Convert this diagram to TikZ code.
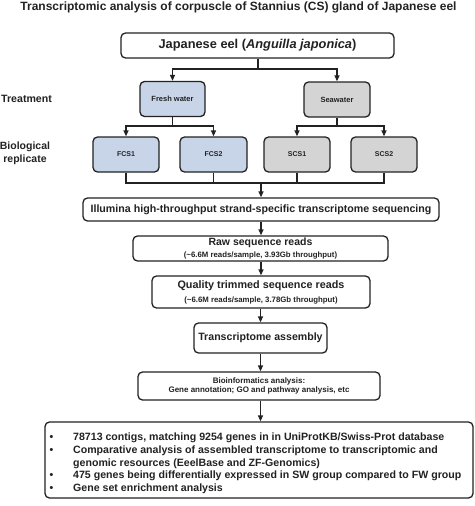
\documentclass[tikz,border=0pt]{standalone}
\usepackage{fontspec}
\setmainfont{Liberation Sans}
\usetikzlibrary{arrows.meta,calc}
\definecolor{fwblue}{HTML}{C8D5E8}
\definecolor{swgray}{HTML}{D4D4D4}
\definecolor{ink}{HTML}{222222}
\begin{document}
\begin{tikzpicture}[x=1pt,y=-1pt,
  box/.style={draw=ink,line width=1.3pt,rounded corners=4.5pt,fill=white,inner sep=0pt,align=center,text=ink,font=\bfseries},
  fw/.style={box,fill=fwblue},
  sw/.style={box,fill=swgray},
  conn/.style={draw=ink,line width=1.3pt},
  arr/.style={conn,-{Triangle[length=6pt,width=5pt]}},
  lab/.style={text=ink,font=\bfseries\fontsize{10.6}{12}\selectfont,inner sep=0pt,align=center}]
\useasboundingbox (0,0) rectangle (474,506);

\node[lab,font=\bfseries\fontsize{12}{14}\selectfont] (title) at (238.5,7.5) {Transcriptomic analysis of corpuscle of Stannius (CS) gland of Japanese eel};

\node[box,minimum width=273pt,minimum height=25pt,font=\bfseries\fontsize{12.8}{14}\selectfont] (eel) at (257.5,45.5) {Japanese eel (\textit{Anguilla japonica})};

\node[fw,minimum width=65pt,minimum height=35pt,font=\bfseries\fontsize{7.5}{8}\selectfont] (fresh) at (172.5,99) {Fresh water};
\node[sw,minimum width=66pt,minimum height=35pt,font=\bfseries\fontsize{7.5}{8}\selectfont] (sea) at (337,99.5) {Seawater};

\node[lab,anchor=west] (treat) at (1,99) {Treatment};
\node[lab,font=\bfseries\fontsize{10.5}{13}\selectfont] (bio) at (25,153.5) {Biological\\replicate};

\node[fw,minimum width=66pt,minimum height=35pt,font=\bfseries\fontsize{7}{8}\selectfont] (fcs1) at (126,154.5) {FCS1};
\node[fw,minimum width=67pt,minimum height=35pt,font=\bfseries\fontsize{7}{8}\selectfont] (fcs2) at (213.5,154.5) {FCS2};
\node[sw,minimum width=66pt,minimum height=35pt,font=\bfseries\fontsize{7}{8}\selectfont] (scs1) at (297,154.5) {SCS1};
\node[sw,minimum width=66pt,minimum height=35pt,font=\bfseries\fontsize{7}{8}\selectfont] (scs2) at (384,154.5) {SCS2};

\node[box,minimum width=356pt,minimum height=23pt,font=\bfseries\fontsize{10.65}{12}\selectfont] (illu) at (261,209.5) {Illumina high-throughput strand-specific transcriptome sequencing};

\node[box,minimum width=255pt,minimum height=25pt] (raw) at (260.5,248.5) {{\fontsize{10.5}{11}\selectfont Raw sequence reads}\\[-0.5pt]{\fontsize{7.8}{8.5}\selectfont (\textasciitilde 6.6M reads/sample, 3.93Gb throughput)}};

\node[box,minimum width=218pt,minimum height=32pt] (qual) at (261,292) {{\fontsize{10.8}{12}\selectfont Quality trimmed sequence reads}\\[2pt]{\fontsize{7.8}{8.5}\selectfont (\textasciitilde 6.6M reads/sample, 3.78Gb throughput)}};

\node[box,minimum width=133pt,minimum height=30pt,font=\bfseries\fontsize{10.6}{12}\selectfont] (asm) at (260.5,338) {Transcriptome assembly};

\node[box,minimum width=242pt,minimum height=28pt,font=\bfseries\fontsize{8}{9.5}\selectfont] (binf) at (259,386) {Bioinformatics analysis:\\Gene annotation; GO and pathway analysis, etc};

\node[box,minimum width=428pt,minimum height=76pt] (res) at (259,460) {};
\node[text=ink,font=\bfseries\fontsize{10.6}{12.8}\selectfont,inner sep=0pt,anchor=west,align=left] (restxt) at (49.5,463.5) {%
\begin{tabular}{@{}p{23.5pt}@{}l@{}}
\textbullet & 78713 contigs, matching 9254 genes in in UniProtKB/Swiss-Prot database\\
\textbullet & Comparative analysis of assembled transcriptome to transcriptomic and\\
 & genomic resources (EeelBase and ZF-Genomics)\\
\textbullet & 475 genes being differentially expressed in SW group compared to FW group\\
\textbullet & Gene set enrichment analysis
\end{tabular}};

% connectors
\coordinate (j1) at (258,69);
\draw[conn] (eel.south -| j1) -- (j1);
\draw[arr] (j1) -| (fresh.north);
\draw[arr] (j1) -| (sea.north);

\coordinate (jf) at (172.5,126);
\coordinate (js) at (337,126);
\draw[conn] (fresh.south) -- (jf);
\draw[conn] (sea.south) -- (js);
\draw[arr] (jf) -| (fcs1.north);
\draw[arr] (jf) -| (fcs2.north);
\draw[arr] (js) -| (scs1.north);
\draw[arr] (js) -| (scs2.north);

\coordinate (jm) at (261,183);
\draw[conn] (fcs1.south) |- (jm);
\draw[conn] (scs2.south) |- (jm);
\draw[conn] (fcs2.south) -- (fcs2.south |- jm);
\draw[conn] (scs1.south) -- (scs1.south |- jm);
\draw[arr] (jm) -- (illu.north);

\draw[arr] (illu.south) -- (raw.north -| illu.south);
\draw[arr] (raw.south -| qual.north) -- (qual.north);
\draw[arr] (qual.south -| asm.north) -- (asm.north);
\draw[arr] (asm.south) -- (binf.north -| asm.south);
\draw[arr] (binf.south -| asm.south) -- (res.north -| asm.south);
\end{tikzpicture}
\end{document}
